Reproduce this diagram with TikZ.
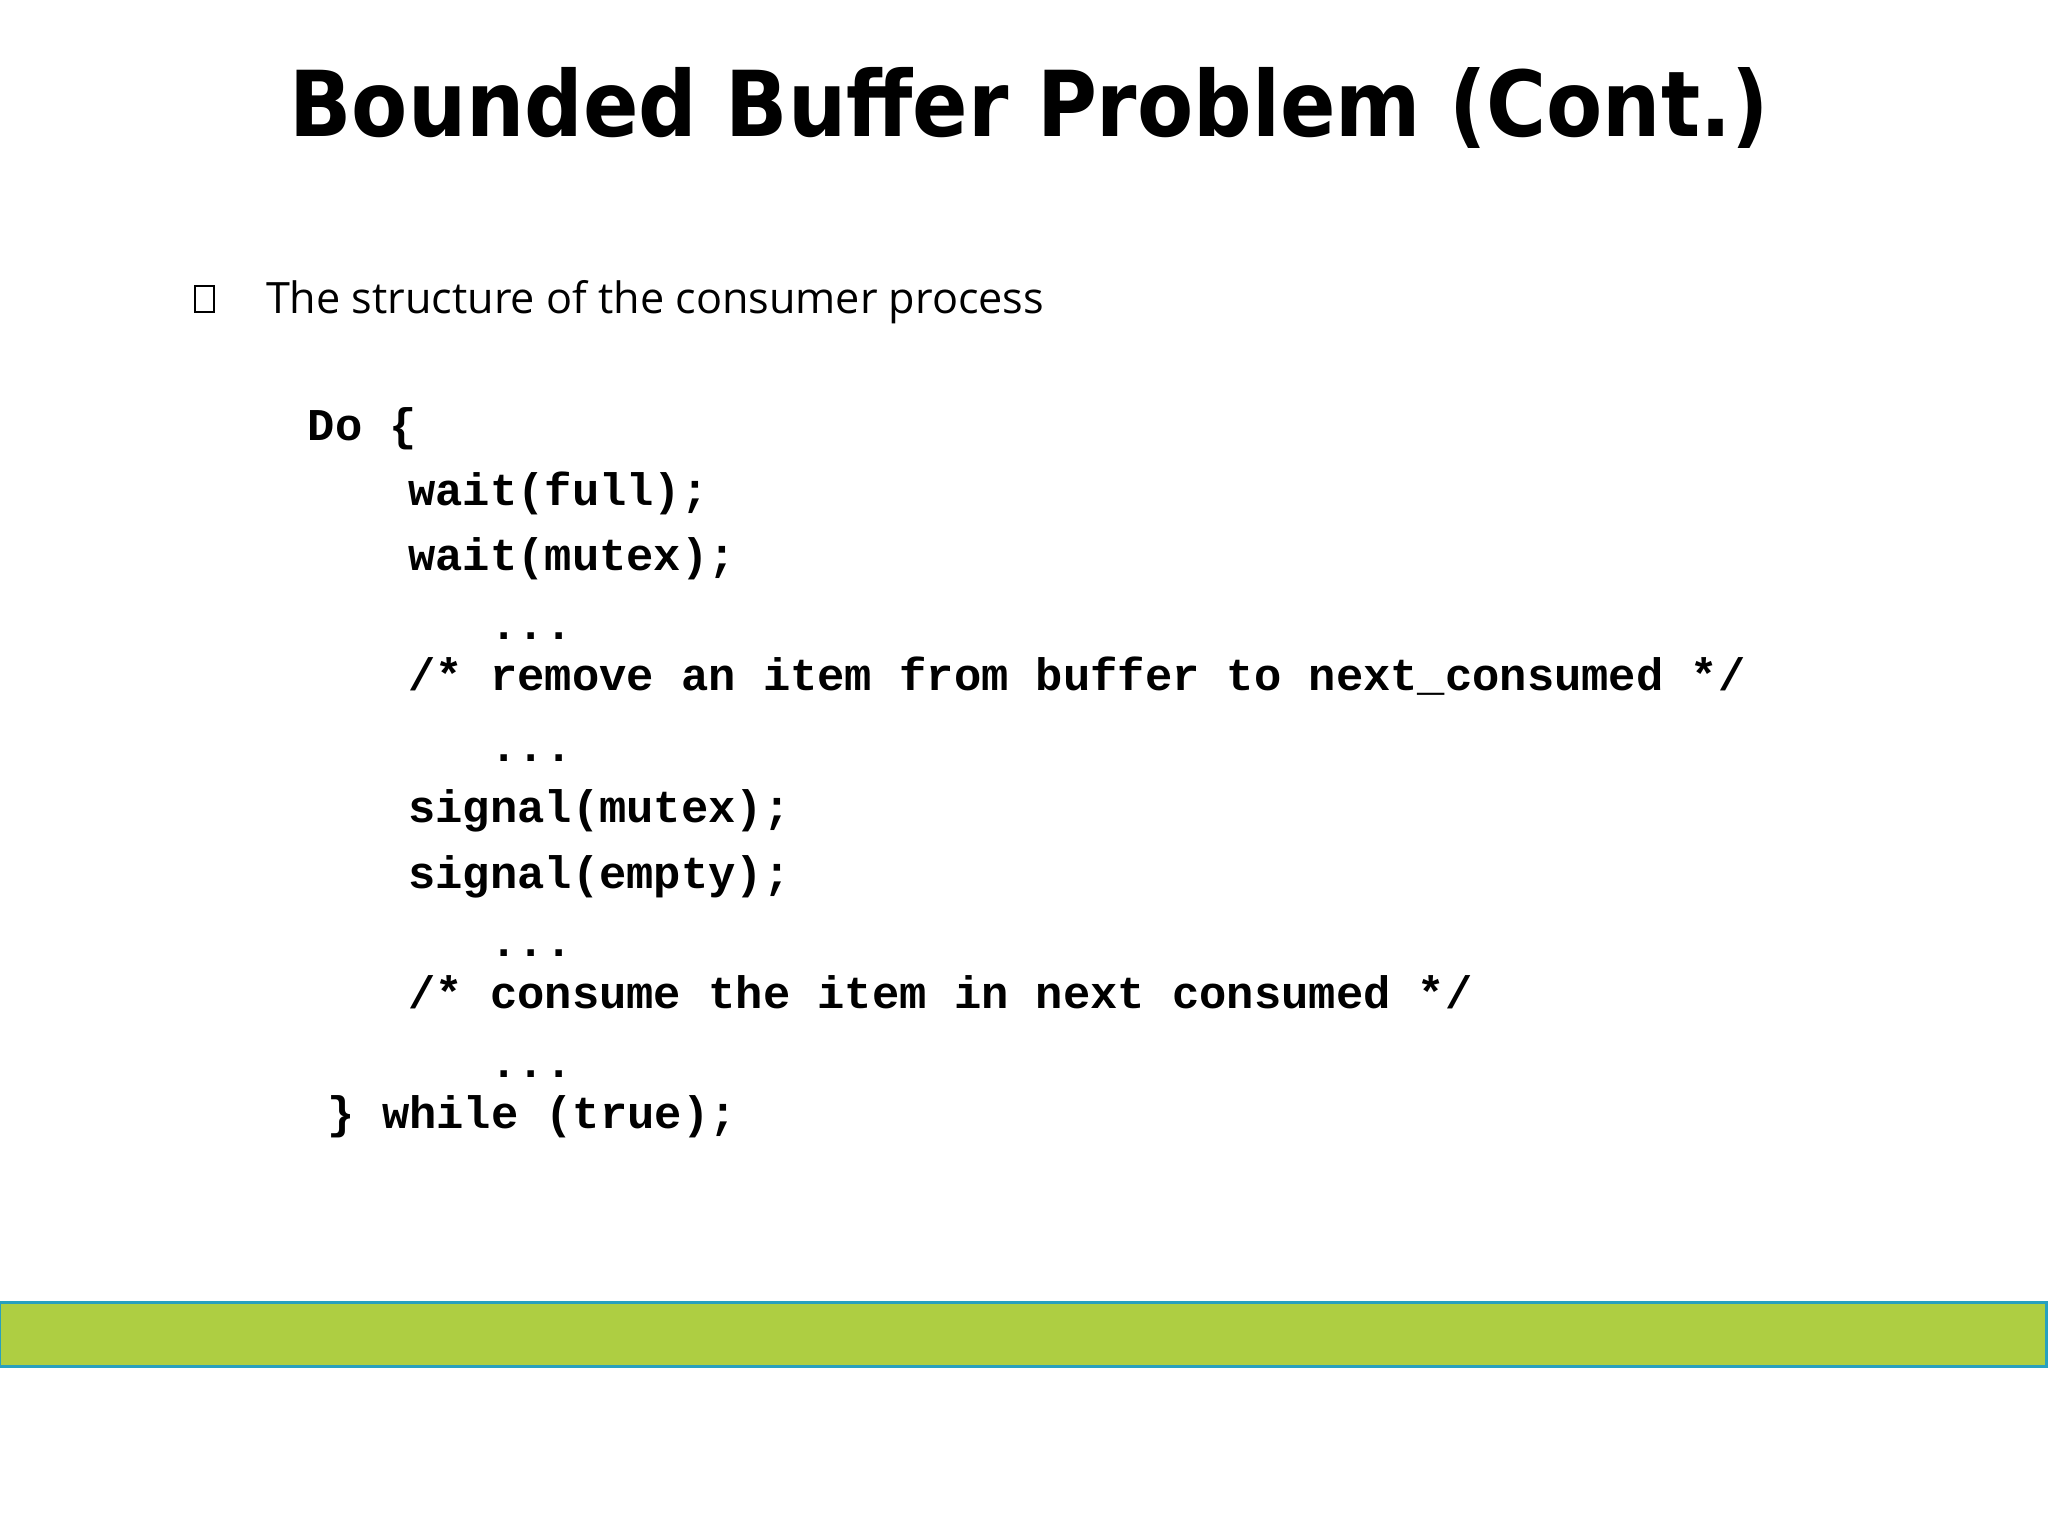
\documentclass[tikz,border=0pt]{standalone}
\usepackage{fontspec}
\setmainfont{DejaVu Sans Condensed}
\newfontfamily\bodyfont{Open Sans}
\newfontfamily\codefont{Liberation Mono}
\begin{document}
\begin{tikzpicture}[x=0.01cm,y=-0.01cm,
  code/.style={anchor=base west,inner sep=0pt,font=\codefont\bfseries\fontsize{9.9pt}{12pt}\selectfont}]
\useasboundingbox (0,0) rectangle (1568,1176);
\fill[white] (0,0) rectangle (1568,1176);
\node[inner sep=0pt,font=\bfseries\fontsize{19.8pt}{24pt}\selectfont] (title) at (788,83) {Bounded Buffer Problem (Cont.)};
\draw[line width=0.4pt] (149,219) rectangle (164,239);
\node[anchor=base west,inner sep=0pt,font=\bodyfont\fontsize{9.4pt}{12pt}\selectfont] (bullet) at (203,240) {The structure of the consumer process};
\node[code] (l1) at (235,337) {Do \{};
\node[code] (l2) at (312,387) {wait(full);};
\node[code] (l3) at (312,437) {wait(mutex);};
\node[code] (l4) at (375,490) {...};
\node[code] (l5) at (312,529) {/* remove an item from buffer to next\_consumed */};
\node[code] (l6) at (375,583) {...};
\node[code] (l7) at (312,630) {signal(mutex);};
\node[code] (l8) at (312,680) {signal(empty);};
\node[code] (l9) at (375,732) {...};
\node[code] (l10) at (312,772) {/* consume the item in next consumed */};
\node[code] (l11) at (375,825) {...};
\node[code] (l12) at (250,864) {\} while (true);};
\draw[fill={rgb,255:red,174;green,206;blue,66},draw={rgb,255:red,40;green,160;blue,190},line width=0.6pt] (0,997) rectangle (1567,1046);
\end{tikzpicture}
\end{document}
